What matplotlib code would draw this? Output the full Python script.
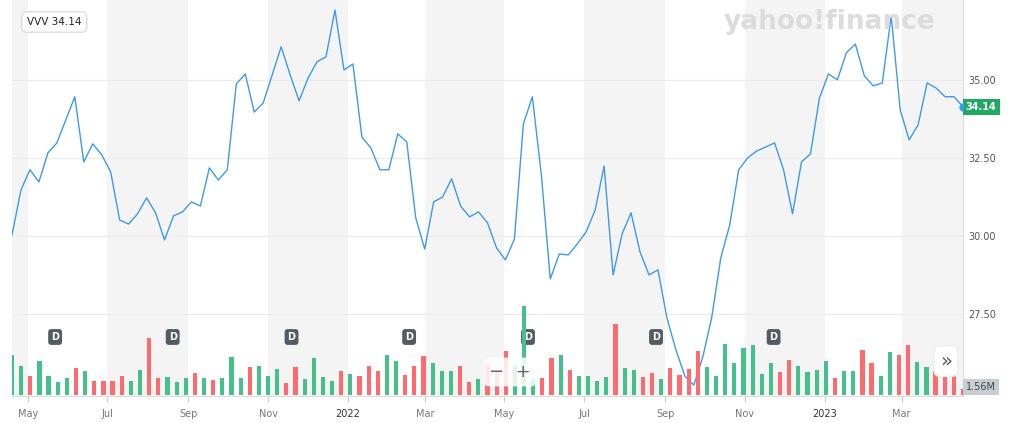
import matplotlib
matplotlib.use("Agg")
import matplotlib.pyplot as plt
import matplotlib.dates as mdates
import numpy as np
import pandas as pd

dates = pd.date_range("2021-04-19", periods=105, freq="7D")
price_px = [235,190,170,182,153,143,120,97,162,144,155,172,220,224,214,198,213,240,216,212,202,206,168,180,170,84,74,112,103,75,47,75,101,78,62,57,10,70,64,137,148,170,170,134,142,218,249,202,197,179,206,217,212,223,248,260,239,124,97,175,279,254,255,244,232,210,166,275,234,213,252,275,270,318,350,376,385,357,317,258,225,170,158,151,147,143,170,214,162,154,98,74,80,53,44,76,86,83,16,110,140,125,83,88,97,97,107]
price = [round(35 - (p - 80) / 31.2, 2) for p in price_px]
price[-1] = 34.14
price_dates = pd.date_range("2021-04-19", "2023-04-17", periods=len(price))
volume = [10.3,7.6,5.0,8.8,5.0,3.3,4.4,7.0,6.3,3.7,3.7,3.6,5.0,3.6,6.6,14.7,4.4,4.6,3.3,4.4,5.7,4.4,4.0,4.4,9.9,4.4,7.2,7.5,4.9,6.8,3.1,7.2,4.2,9.6,4.6,3.6,6.2,5.5,5.0,7.6,6.2,10.3,8.9,5.3,7.6,10.1,8.3,6.3,6.3,7.6,3.3,4.2,7.9,6.2,11.4,7.9,
          23.2,4.2,4.4,9.6,10.5,6.6,4.9,4.9,3.6,4.7,18.5,7.0,6.6,4.7,5.7,4.2,7.0,5.3,6.8,11.4,7.2,4.9,13.2,8.4,12.2,12.9,5.5,8.4,6.0,9.2,7.6,6.0,6.6,8.8,4.4,6.2,6.2,11.6,8.4,4.9,11.2,10.3,12.9,8.6,7.3,6.2,6.6,5.7,1.56]
vol_up = "GGRGGGGRGRRRRGGRRGGGRGRGGGRGGGRRGGGGRGRRRGGRRRGGGRRGRRRG" + "GGRRGRGGGGRGGRRGRRRRGGGGGGGGRRGGGGRGGRRGGRRGGRRRR"
div_dates = ["2021-05-22","2021-08-20","2021-11-19","2022-02-17","2022-05-19","2022-08-25","2022-11-23"]
price_ticks = [27.5, 30.0, 32.5, 35.0]

W, H = 1024, 423
fig = plt.figure(figsize=(W/100, H/100), dpi=100)
x0, x1 = 12/W, 963/W
ax = fig.add_axes([x0, (H-396)/H, x1-x0, 396/H])
axv = fig.add_axes([x0, (H-395)/H, x1-x0, 100/H], sharex=ax)
axv.patch.set_alpha(0)
ax.set_xlim(dates[0], dates[-1])
ax.set_ylim(24.87, 37.56)

bands = [("2021-03-01","2021-05-01"),("2021-07-01","2021-09-01"),("2021-11-01","2022-01-01"),
         ("2022-03-01","2022-05-01"),("2022-07-01","2022-09-01"),("2022-11-01","2023-01-01"),("2023-03-01","2023-05-01")]
for a, b in bands:
    ax.axvspan(pd.Timestamp(a), pd.Timestamp(b), color="#f4f4f4", lw=0, zorder=0)
for t in price_ticks:
    ax.axhline(t, color="#ebebeb", lw=0.8, zorder=1)

ax.plot(price_dates, price, color="#3d9be9", lw=1.0, zorder=3)
ax.plot(price_dates[-1], price[-1], "o", color="#3d9be9", ms=5, zorder=4)

cols = ["#44c08a" if c == "G" else "#fd6b6e" for c in vol_up]
axv.bar(dates, volume, width=3.2, color=cols, zorder=2)
axv.set_ylim(0, 26)
axv.axis("off")
ax.set_xlim(dates[0], dates[-1])

for d in div_dates:
    ax.text(pd.Timestamp(d), 0.149, "D", transform=ax.get_xaxis_transform(), ha="center", va="center",
            color="white", fontsize=7, fontweight="bold",
            bbox=dict(boxstyle="round,pad=0.3", fc="#555b63", ec="none"), zorder=6)

ax.yaxis.tick_right()
ax.set_yticks(price_ticks)
ax.set_yticklabels([f"{t:.2f}" for t in price_ticks])
ax.tick_params(axis="y", length=0, labelsize=7, colors="#555", pad=4)
ax.xaxis.set_major_locator(mdates.MonthLocator(bymonth=[1,3,5,7,9,11]))
def fmt(x, pos):
    d = mdates.num2date(x)
    return str(d.year) if d.month == 1 else d.strftime("%b")
ax.xaxis.set_major_formatter(plt.FuncFormatter(fmt))
ax.tick_params(axis="x", length=4, labelsize=7, colors="#777", pad=5, color="#ccc")
for s in ["top", "left"]:
    ax.spines[s].set_visible(False)
ax.spines["right"].set_color("#ddd")
ax.spines["bottom"].set_color("#ddd")

ax.text(1.003, (price[-1]-24.87)/(37.56-24.87), f"{price[-1]:.2f}", transform=ax.transAxes, va="center", ha="left",
        fontsize=7, color="white", fontweight="bold", bbox=dict(boxstyle="square,pad=0.3", fc="#21a862", ec="none"))
axv.text(1.003, 8/100, "1.56M", transform=axv.transAxes, va="center", ha="left", fontsize=7, color="#444",
         bbox=dict(boxstyle="square,pad=0.3", fc="#c8ccd3", ec="none"))

fig.text(27/W, 1-22/H, "VVV 34.14", fontsize=7.5, color="#222", va="center",
         bbox=dict(boxstyle="round,pad=0.5", fc="white", ec="#ddd"))
fig.patches.append(plt.Rectangle((22/W, 1-29/H), 2.5/W, 14/H, transform=fig.transFigure, color="#1a8cff"))
fig.text(830/W, 1-22/H, "yahoo!finance", fontsize=19, fontweight="bold", color="#dcdcdc", ha="center", va="center")
fig.text(510/W, 1-372/H, "−  +", fontsize=13, color="#666", ha="center", va="center",
         bbox=dict(boxstyle="round,pad=0.3", fc="white", ec="none", alpha=0.85))
fig.text(946/W, 1-361/H, "»", fontsize=14, color="#555", ha="center", va="center",
         bbox=dict(boxstyle="round,pad=0.3", fc="white", ec="#eee"))

fig.savefig("out.png", dpi=100)
fig.canvas.draw()
for lbl in ax.get_xticklabels():
    if lbl.get_text().isdigit():
        lbl.set_color("#333")
fig.savefig("out.png", dpi=100)
